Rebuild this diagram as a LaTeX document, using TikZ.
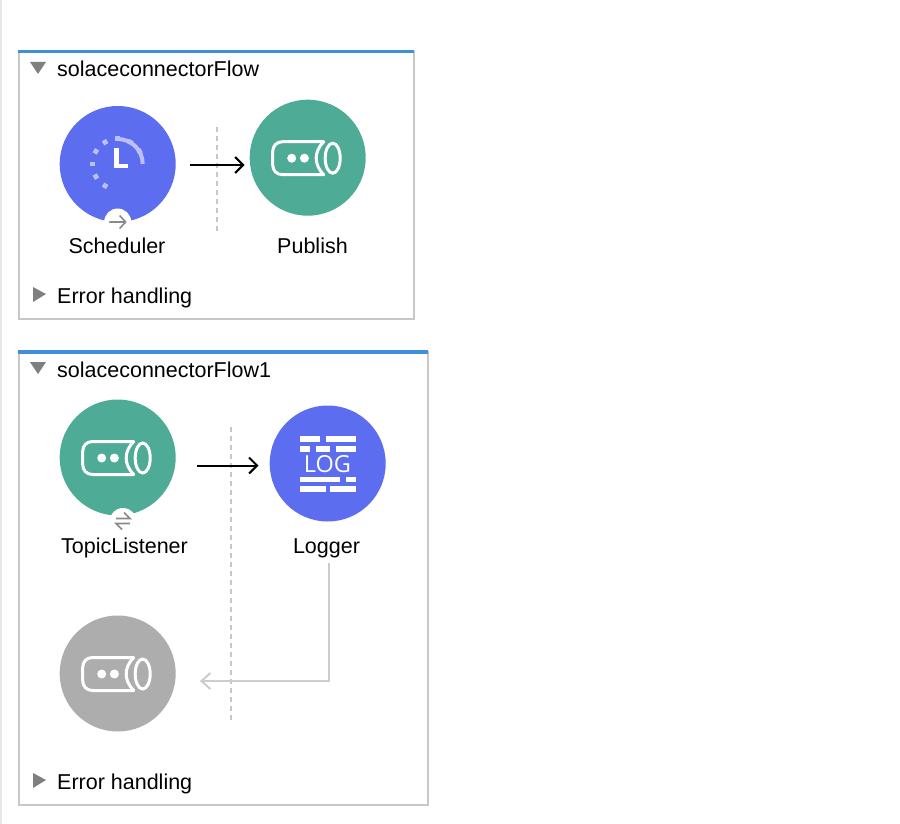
\documentclass[tikz,border=0pt]{standalone}
\usepackage{fontspec}
\setmainfont{Liberation Sans}
\newfontfamily\logfont{Open Sans}
\usetikzlibrary{arrows.meta}
\definecolor{bluehead}{HTML}{3F8EE0}
\definecolor{boxgrey}{HTML}{C8C8C8}
\definecolor{violet}{HTML}{5C6DF0}
\definecolor{teal}{HTML}{4EAB95}
\definecolor{ghost}{HTML}{ADADAD}
\definecolor{lilac}{HTML}{BAC1FA}
\definecolor{tri}{HTML}{7F7F7F}
\tikzset{
  x=1pt,y=-1pt,
  flowbox/.style={draw=boxgrey,line width=2pt},
  headbar/.style={fill=bluehead,draw=none},
  opnode/.style={circle,minimum size=116pt,inner sep=0pt,draw=none},
  badge/.style={circle,fill=white,minimum size=27pt,inner sep=0pt,draw=none},
  lbl/.style={font=\fontsize{21.5}{25}\selectfont,text=black,inner sep=0pt,anchor=base},
  lleft/.style={font=\fontsize{21.5}{25}\selectfont,text=black,inner sep=0pt,anchor=base west},
  guide/.style={draw=boxgrey,line width=2pt,dash pattern=on 5pt off 4pt},
  flowarrow/.style={draw=black,line width=2pt,-{Straight Barb[length=8pt,width=16pt,line width=2pt]}},
  backarrow/.style={draw=boxgrey!90,line width=2pt,-{Straight Barb[length=9pt,width=16pt,line width=2pt]}},
  triangle/.style={fill=tri,draw=none},
  pics/connicon/.style={code={
    \draw[white,line width=3pt,line join=round,line cap=round]
      (16,-16) -- (-25,-16) .. controls (-31,-16) and (-35,-12) .. (-35,-6)
      -- (-35,7) .. controls (-35,13) and (-31,17) .. (-25,17) -- (16,17)
      .. controls (6,7) and (6,-6) .. (16,-16);
    \draw[white,line width=3pt] (25,0.5) ellipse [x radius=7.5,y radius=15];
    \fill[white] (-16,0.5) circle [radius=4.5];
    \fill[white] (-3.3,0.5) circle [radius=4.5];
  }},
}
\begin{document}
\begin{tikzpicture}
\useasboundingbox (0,0) rectangle (900,824);
\fill[white] (0,0) rectangle (900,824);
\fill[black!9] (0,0) rectangle (2,824);

% flow boxes
\draw[flowbox] (18.5,52) rectangle (413.5,319);
\fill[headbar] (18,50) rectangle (414,53.5);
\draw[flowbox] (18.5,352) rectangle (427.5,805);
\fill[headbar] (18,350) rectangle (428,353.5);

% triangles
\fill[triangle] (30,62) -- (46,62) -- (38,74) -- cycle;
\fill[triangle] (33,287) -- (46,294) -- (33,302) -- cycle;
\fill[triangle] (30,362) -- (46,362) -- (38,374) -- cycle;
\fill[triangle] (33,773) -- (46,780) -- (33,788) -- cycle;

% titles
\node[lleft] (t1) at (57,77) {solaceconnectorFlow};
\node[lleft] (e1) at (57,303) {Error handling};
\node[lleft] (t2) at (57,377) {solaceconnectorFlow1};
\node[lleft] (e2) at (57,789) {Error handling};

% guides
\coordinate (g1a) at (217,127); \coordinate (g1b) at (217,233);
\coordinate (g2a) at (231,427); \coordinate (g2b) at (231,720);
\draw[guide] (g1a) -- (g1b);
\draw[guide] (g2a) -- (g2b);

% nodes
\node[opnode,fill=violet] (sched) at (117.7,164) {};
\node[opnode,fill=teal] (pub) at (307.7,157.7) {};
\node[opnode,fill=teal] (listen) at (117.7,457.5) {};
\node[opnode,fill=violet] (logger) at (327.7,463.5) {};
\node[opnode,fill=ghost] (ghostn) at (117.7,673.5) {};

\node[badge] (b1) at (117.7,222) {};
\node[badge] (b2) at (123,521.5) {};

% scheduler icon
\begin{scope}[shift={(sched.center)}]
  \draw[lilac,line width=4pt] (0,-25) arc [start angle=90,end angle=0,x radius=25,y radius=-25];
  \foreach \a in {120,150,180,210,240,270,300,330}
    \fill[lilac,rotate=-\a] (22.8,-2.4) rectangle (27.6,2.4);
  \fill[white] (-4,-16) rectangle (1.5,4.5);
  \fill[white] (-4,0) rectangle (10.5,4.5);
\end{scope}

% badge glyphs
\draw[ghost!80!black,line width=1.6pt,line cap=round,-{Straight Barb[length=6pt,width=13pt,line width=1.6pt]}]
  ([shift={(-8,0)}]b1.center) -- ([shift={(9,0)}]b1.center);
\draw[ghost!80!black,line width=1.6pt] ([shift={(-7,-3)}]b2.center) -- ([shift={(7,-3)}]b2.center) -- ++(-6,-6);
\draw[ghost!80!black,line width=1.6pt] ([shift={(7,2)}]b2.center) -- ([shift={(-7,2)}]b2.center) -- ++(6,6);

% connector icons
\pic at (pub.center) {connicon};
\pic at (listen.center) {connicon};
\pic at (ghostn.center) {connicon};

% log icon
\begin{scope}[shift={(logger.center)},white]
  \fill (-27.7,-27.3) rectangle (-7.7,-21.7);
  \fill (-1.7,-27.3) rectangle (28.3,-21.7);
  \fill (-27.7,-17.3) rectangle (-17.3,-11.3);
  \fill (-11.7,-17.3) rectangle (2.7,-11.3);
  \fill (8.3,-17.3) rectangle (28.3,-11.3);
  \node[inner sep=0pt,text=white,font=\logfont\fontsize{23.5}{25}\selectfont] (logtxt) at (-0.3,0.7) {LOG};
  \fill (-27.7,13) rectangle (12.3,18.7);
  \fill (18,13) rectangle (28.3,18.7);
  \fill (-27.7,22.7) rectangle (-1.7,28.7);
  \fill (2.3,22.7) rectangle (28.3,28.7);
\end{scope}

% labels
\node[lbl] (l1) at (117,253) {Scheduler};
\node[lbl] (l2) at (312.5,253) {Publish};
\node[lbl] (l3) at (124.5,553) {TopicListener};
\node[lbl] (l4) at (326.5,553) {Logger};

% connectors
\draw[flowarrow] ([shift={(14,1)}]sched.east) -- ([shift={(-5,1)}]sched.east -| pub.west);
\draw[flowarrow] ([shift={(21,8)}]listen.east) -- ([shift={(-11,2)}]logger.west);
\coordinate (lg) at (329,563);
\coordinate (gh) at ([shift={(24,7.5)}]ghostn.east);
\draw[backarrow] (lg) |- (gh);
\end{tikzpicture}
\end{document}
